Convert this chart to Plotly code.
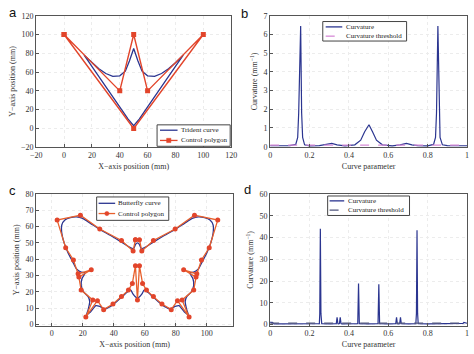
import plotly.graph_objects as go

# ---------------- data ----------------
# Panel a: trident
tri_poly_x = [0, 50, 100, 60, 50, 40, 0]
tri_poly_y = [100, 0, 100, 40, 100, 40, 100]
tri_curve_x = [14.4, 20, 25, 30, 35, 40, 44, 47, 50, 53, 56, 60, 65, 70, 75, 80, 85.6,
               80, 70, 60, 54, 50, 46, 40, 30, 20, 14.4]
tri_curve_y = [78, 70, 63.5, 58.5, 55.5, 56, 61, 72, 85, 72, 61, 56, 55.5, 58.5, 63.5, 70, 78,
               66, 45, 23, 10, 3, 10, 23, 45, 66, 78]

# Panel b: curvature of trident
b_u = [0, 0.05, 0.1, 0.13, 0.14, 0.145, 0.155, 0.16, 0.165, 0.175, 0.2, 0.25, 0.28, 0.313, 0.34,
       0.38, 0.43, 0.46, 0.48, 0.502, 0.52, 0.54, 0.57, 0.62, 0.66, 0.692, 0.72, 0.75, 0.8, 0.83,
       0.84, 0.845, 0.852, 0.858, 0.863, 0.875, 0.9, 0.95, 1]
b_k = [0.05, 0.05, 0.06, 0.12, 0.5, 1.8, 6.45, 1.8, 0.5, 0.1, 0.04, 0.06, 0.1, 0.18, 0.1,
       0.04, 0.1, 0.35, 0.8, 1.17, 0.8, 0.35, 0.1, 0.04, 0.1, 0.18, 0.1, 0.06, 0.04, 0.12,
       0.5, 1.8, 6.45, 1.8, 0.5, 0.1, 0.06, 0.05, 0.05]
b_thr = [0.08, 0.08]
b_thr_u = [0, 1]

# Panel c: butterfly
bf_poly_x = [54, 52.5, 45, 31, 18.5, 3.5, 9, 14, 17, 25.5, 17.5, 19, 26.5, 22, 29.5, 33.5, 39.5,
             45, 49.5, 52, 54, 55.3, 56.6, 58.6, 61.1, 65.6, 71.1, 77.1, 81.1, 88.6, 84.1, 91.6,
             93.1, 85.1, 93.6, 96.6, 101.6, 107.1, 92.1, 79.6, 65.6, 58.1, 56.6, 54]
bf_poly_y = [52, 45, 51.5, 58.5, 67, 64, 47, 39.5, 31, 33.5, 29, 21, 15, 4.5, 14.5, 9, 12.5,
             17, 21, 25, 36, 15, 36, 25, 21, 17, 12.5, 9, 14.5, 4.5, 15, 21,
             29, 33.5, 31, 39.5, 47, 64, 67, 58.5, 51.5, 45, 52, 52]
bf_curve_x = [55.3, 54, 52.8, 50, 45, 38, 31, 25, 20, 16, 12, 8.5, 6.5, 6.5, 8, 10.5, 13.5, 16,
              19, 21.5, 19.5, 19, 20.5, 23.5, 24.5, 23.5, 22.5, 25, 28.5, 31, 34, 38, 42, 46,
              49, 51, 52.5, 55.3, 58.1, 59.6, 61.6, 64.6, 68.6, 72.6, 76.6, 79.6, 82.1, 85.6,
              88.1, 87.1, 86.1, 87.1, 90.1, 91.6, 91.1, 89.1, 91.6, 94.6, 97.1, 100.1, 102.6,
              104.1, 104.1, 102.1, 98.6, 94.6, 90.6, 85.6, 79.6, 72.6, 65.6, 60.6, 57.8, 56.6, 55.3]
bf_curve_y = [50, 49, 46.5, 47.5, 50.5, 54.5, 58.3, 62, 65, 66, 65.5, 64, 61, 56, 50, 44, 38.5, 34,
              32, 31.5, 28, 24, 20, 17, 14, 9, 6, 7.5, 11.5, 11, 9.5, 11, 14, 17.5,
              20, 21, 18.5, 16, 18.5, 21, 20, 17.5, 14, 11, 9.5, 11, 11.5, 7.5,
              6, 9, 14, 17, 20, 24, 28, 31.5, 32, 34, 38.5, 44, 50,
              56, 61, 64, 65.5, 66, 65, 62, 58.3, 54.5, 50.5, 47.5, 46.5, 49, 50]

# Panel d: curvature of butterfly
d_u = [0, 0.004, 0.008, 0.012, 0.016, 0.02, 0.05, 0.1, 0.15, 0.2, 0.25, 0.252, 0.255, 0.258, 0.262,
       0.3, 0.336, 0.34, 0.344, 0.348, 0.352, 0.356, 0.36, 0.364, 0.4, 0.445, 0.449, 0.453,
       0.5, 0.548, 0.552, 0.556, 0.6, 0.638, 0.642, 0.646, 0.652, 0.658, 0.662, 0.666,
       0.7, 0.74, 0.743, 0.746, 0.749, 0.752, 0.8, 0.85, 0.9, 0.95, 0.98, 0.984, 0.988,
       0.992, 0.996, 1]
d_k = [0.8, 1.1, 0.9, 1.0, 0.5, 0.3, 0.3, 0.3, 0.3, 0.3, 0.4, 5, 44, 5, 0.4,
       0.3, 0.4, 3.3, 0.4, 0.3, 0.4, 3.3, 0.4, 0.3, 0.3, 0.4, 18.9, 0.4,
       0.3, 0.4, 18.5, 0.4, 0.3, 0.4, 3.3, 0.4, 0.3, 0.4, 3.3, 0.4,
       0.3, 0.4, 5, 43.3, 5, 0.4, 0.3, 0.3, 0.3, 0.3, 0.5, 1.0, 0.9, 1.1, 0.8, 0.6]
d_thr = [0.6, 0.6]
d_thr_u = [0, 1]

# legend labels
leg_a = ["Trident curve", "Control polygon"]
leg_b = ["Curvature", "Curvature threshold"]
leg_c = ["Butterfly curve", "Control polygon"]
leg_d = ["Curvature", "Curvature threshold"]

# ---------------- styling ----------------
BLUE = "#2B3590"
RED = "#E2452B"
ORANGE = "#E8602C"
PINK = "#D68AD6"
DGRAY = "#555a80"
SERIF = "Liberation Serif"
W, H = 474, 354

fig = go.Figure()

fig.add_trace(go.Scatter(x=tri_curve_x, y=tri_curve_y, mode="lines", name=leg_a[0],
                         line=dict(color=BLUE, width=1.3), xaxis="x", yaxis="y"))
fig.add_trace(go.Scatter(x=tri_poly_x, y=tri_poly_y, mode="lines+markers", name=leg_a[1],
                         line=dict(color=RED, width=1.4), marker=dict(color=RED, size=5, symbol="square"),
                         xaxis="x", yaxis="y"))

fig.add_trace(go.Scatter(x=b_u, y=b_k, mode="lines", name=leg_b[0],
                         line=dict(color=BLUE, width=1.2), xaxis="x2", yaxis="y2"))
fig.add_trace(go.Scatter(x=b_thr_u, y=b_thr, mode="lines", name=leg_b[1],
                         line=dict(color=PINK, width=1.2, dash="dash"), xaxis="x2", yaxis="y2"))

fig.add_trace(go.Scatter(x=bf_curve_x, y=bf_curve_y, mode="lines", name=leg_c[0],
                         line=dict(color=BLUE, width=1.3, shape="spline", smoothing=0.6),
                         xaxis="x3", yaxis="y3"))
fig.add_trace(go.Scatter(x=bf_poly_x, y=bf_poly_y, mode="lines+markers", name=leg_c[1],
                         line=dict(color=ORANGE, width=1.3), marker=dict(color=RED, size=5),
                         xaxis="x3", yaxis="y3"))

fig.add_trace(go.Scatter(x=d_u, y=d_k, mode="lines", name=leg_d[0],
                         line=dict(color=BLUE, width=1.2), xaxis="x4", yaxis="y4"))
fig.add_trace(go.Scatter(x=d_thr_u, y=d_thr, mode="lines", name=leg_d[1],
                         line=dict(color=DGRAY, width=1.2, dash="dash"), xaxis="x4", yaxis="y4"))


def px_x(p):
    return p / W


def px_y(p):
    return 1 - p / H


def ax(domain, rng, dtick, title, anchor, tickvals=None, ticktext=None):
    d = dict(domain=domain, range=rng, anchor=anchor, showline=True, mirror=True,
             linecolor="#555555", linewidth=1, ticks="inside", ticklen=3, tickcolor="#555555",
             showgrid=True, gridcolor="#ececec", griddash="dot", zeroline=False,
             tickfont=dict(family=SERIF, size=8, color="#333333"),
             title=dict(text=title, font=dict(family=SERIF, size=8, color="#333333"), standoff=4))
    if tickvals is not None:
        d.update(tickmode="array", tickvals=tickvals, ticktext=ticktext)
    else:
        d.update(dtick=dtick, tick0=0)
    return d


xa = [px_x(31), px_x(231)]
xb = [px_x(271), px_x(473)]
xc = [px_x(31), px_x(233)]
xd = [px_x(271), px_x(473)]
yt = [px_y(147), px_y(12)]
yb = [px_y(330), px_y(195)]

utick = [0, 0.2, 0.4, 0.6, 0.8, 1]
utext = ["0", "0.2", "0.4", "0.6", "0.8", "1"]

fig.update_layout(
    width=W, height=H, margin=dict(l=0, r=0, t=0, b=0),
    paper_bgcolor="white", plot_bgcolor="white", showlegend=False,
    xaxis=ax(xa, [-20, 120], 20, "X−axis position (mm)", "y"),
    yaxis=ax(yt, [-20, 120], 20, "Y−axis position (mm)", "x"),
    xaxis2=ax(xb, [0, 1], None, "Curve parameter", "y2", utick, utext),
    yaxis2=ax(yt, [-0.03, 7], 1, "Curvature (mm<sup>−1</sup>)", "x2"),
    xaxis3=ax(xc, [-10, 117], 20, "X−axis position (mm)", "y3"),
    yaxis3=ax(yb, [-0.8, 80], 10, "Y−axis position (mm)", "x3"),
    xaxis4=ax(xd, [0, 1], None, "Curve parameter", "y4", utick, utext),
    yaxis4=ax(yb, [-0.5, 60], 10, "Curvature (mm<sup>−1</sup>)", "x4"),
)


# ----- compact legends drawn as shapes + text (pixel boxes) -----
def legend_box(box, rows, labels, styles):
    x0, y0, x1, y1 = box
    fig.add_shape(type="rect", xref="paper", yref="paper",
                  x0=px_x(x0), x1=px_x(x1), y0=px_y(y1), y1=px_y(y0),
                  line=dict(color="#444444", width=1), fillcolor="white", layer="above")
    for (ly, lx0, lx1, tx), lab, st in zip(rows, labels, styles):
        fig.add_shape(type="line", xref="paper", yref="paper",
                      x0=px_x(lx0), x1=px_x(lx1), y0=px_y(ly), y1=px_y(ly),
                      line=dict(color=st["color"], width=1.3, dash=st.get("dash", "solid")),
                      layer="above")
        if st.get("marker"):
            mx = (lx0 + lx1) / 2
            r = 2.2
            fig.add_shape(type=st["marker"], xref="paper", yref="paper",
                          x0=px_x(mx - r), x1=px_x(mx + r), y0=px_y(ly + r), y1=px_y(ly - r),
                          line=dict(color=RED, width=0.5), fillcolor=RED, layer="above")
        fig.add_annotation(text=lab, x=px_x(tx), y=px_y(ly), xref="paper", yref="paper",
                           xanchor="left", yanchor="middle", showarrow=False,
                           font=dict(family=SERIF, size=7, color="#222222"))


legend_box((155, 124, 230, 146), [(129.5, 158, 176, 178), (140, 158, 176, 178)], leg_a,
           [dict(color=BLUE), dict(color=RED, marker="rect")])
legend_box((325, 18, 411, 38), [(23.5, 328, 345, 347), (33, 328, 345, 347)], leg_b,
           [dict(color=BLUE), dict(color=PINK, dash="dash")])
legend_box((93, 198, 167, 222), [(204.5, 95, 112, 113), (215, 95, 112, 113)], leg_c,
           [dict(color=BLUE), dict(color=ORANGE, marker="circle")])
legend_box((330, 197, 414, 217), [(202, 332, 347, 349), (211.5, 332, 347, 349)], leg_d,
           [dict(color=BLUE), dict(color=DGRAY, dash="dash")])

for txt, x, y in [("a", 1, -1), ("b", 239, 0), ("c", 1, 182), ("d", 242, 181)]:
    fig.add_annotation(text=txt, x=px_x(x), y=px_y(y), xref="paper", yref="paper",
                       xanchor="left", yanchor="top", showarrow=False,
                       font=dict(family="Liberation Sans", size=13, color="#111111"))

fig.write_html("out.html")
